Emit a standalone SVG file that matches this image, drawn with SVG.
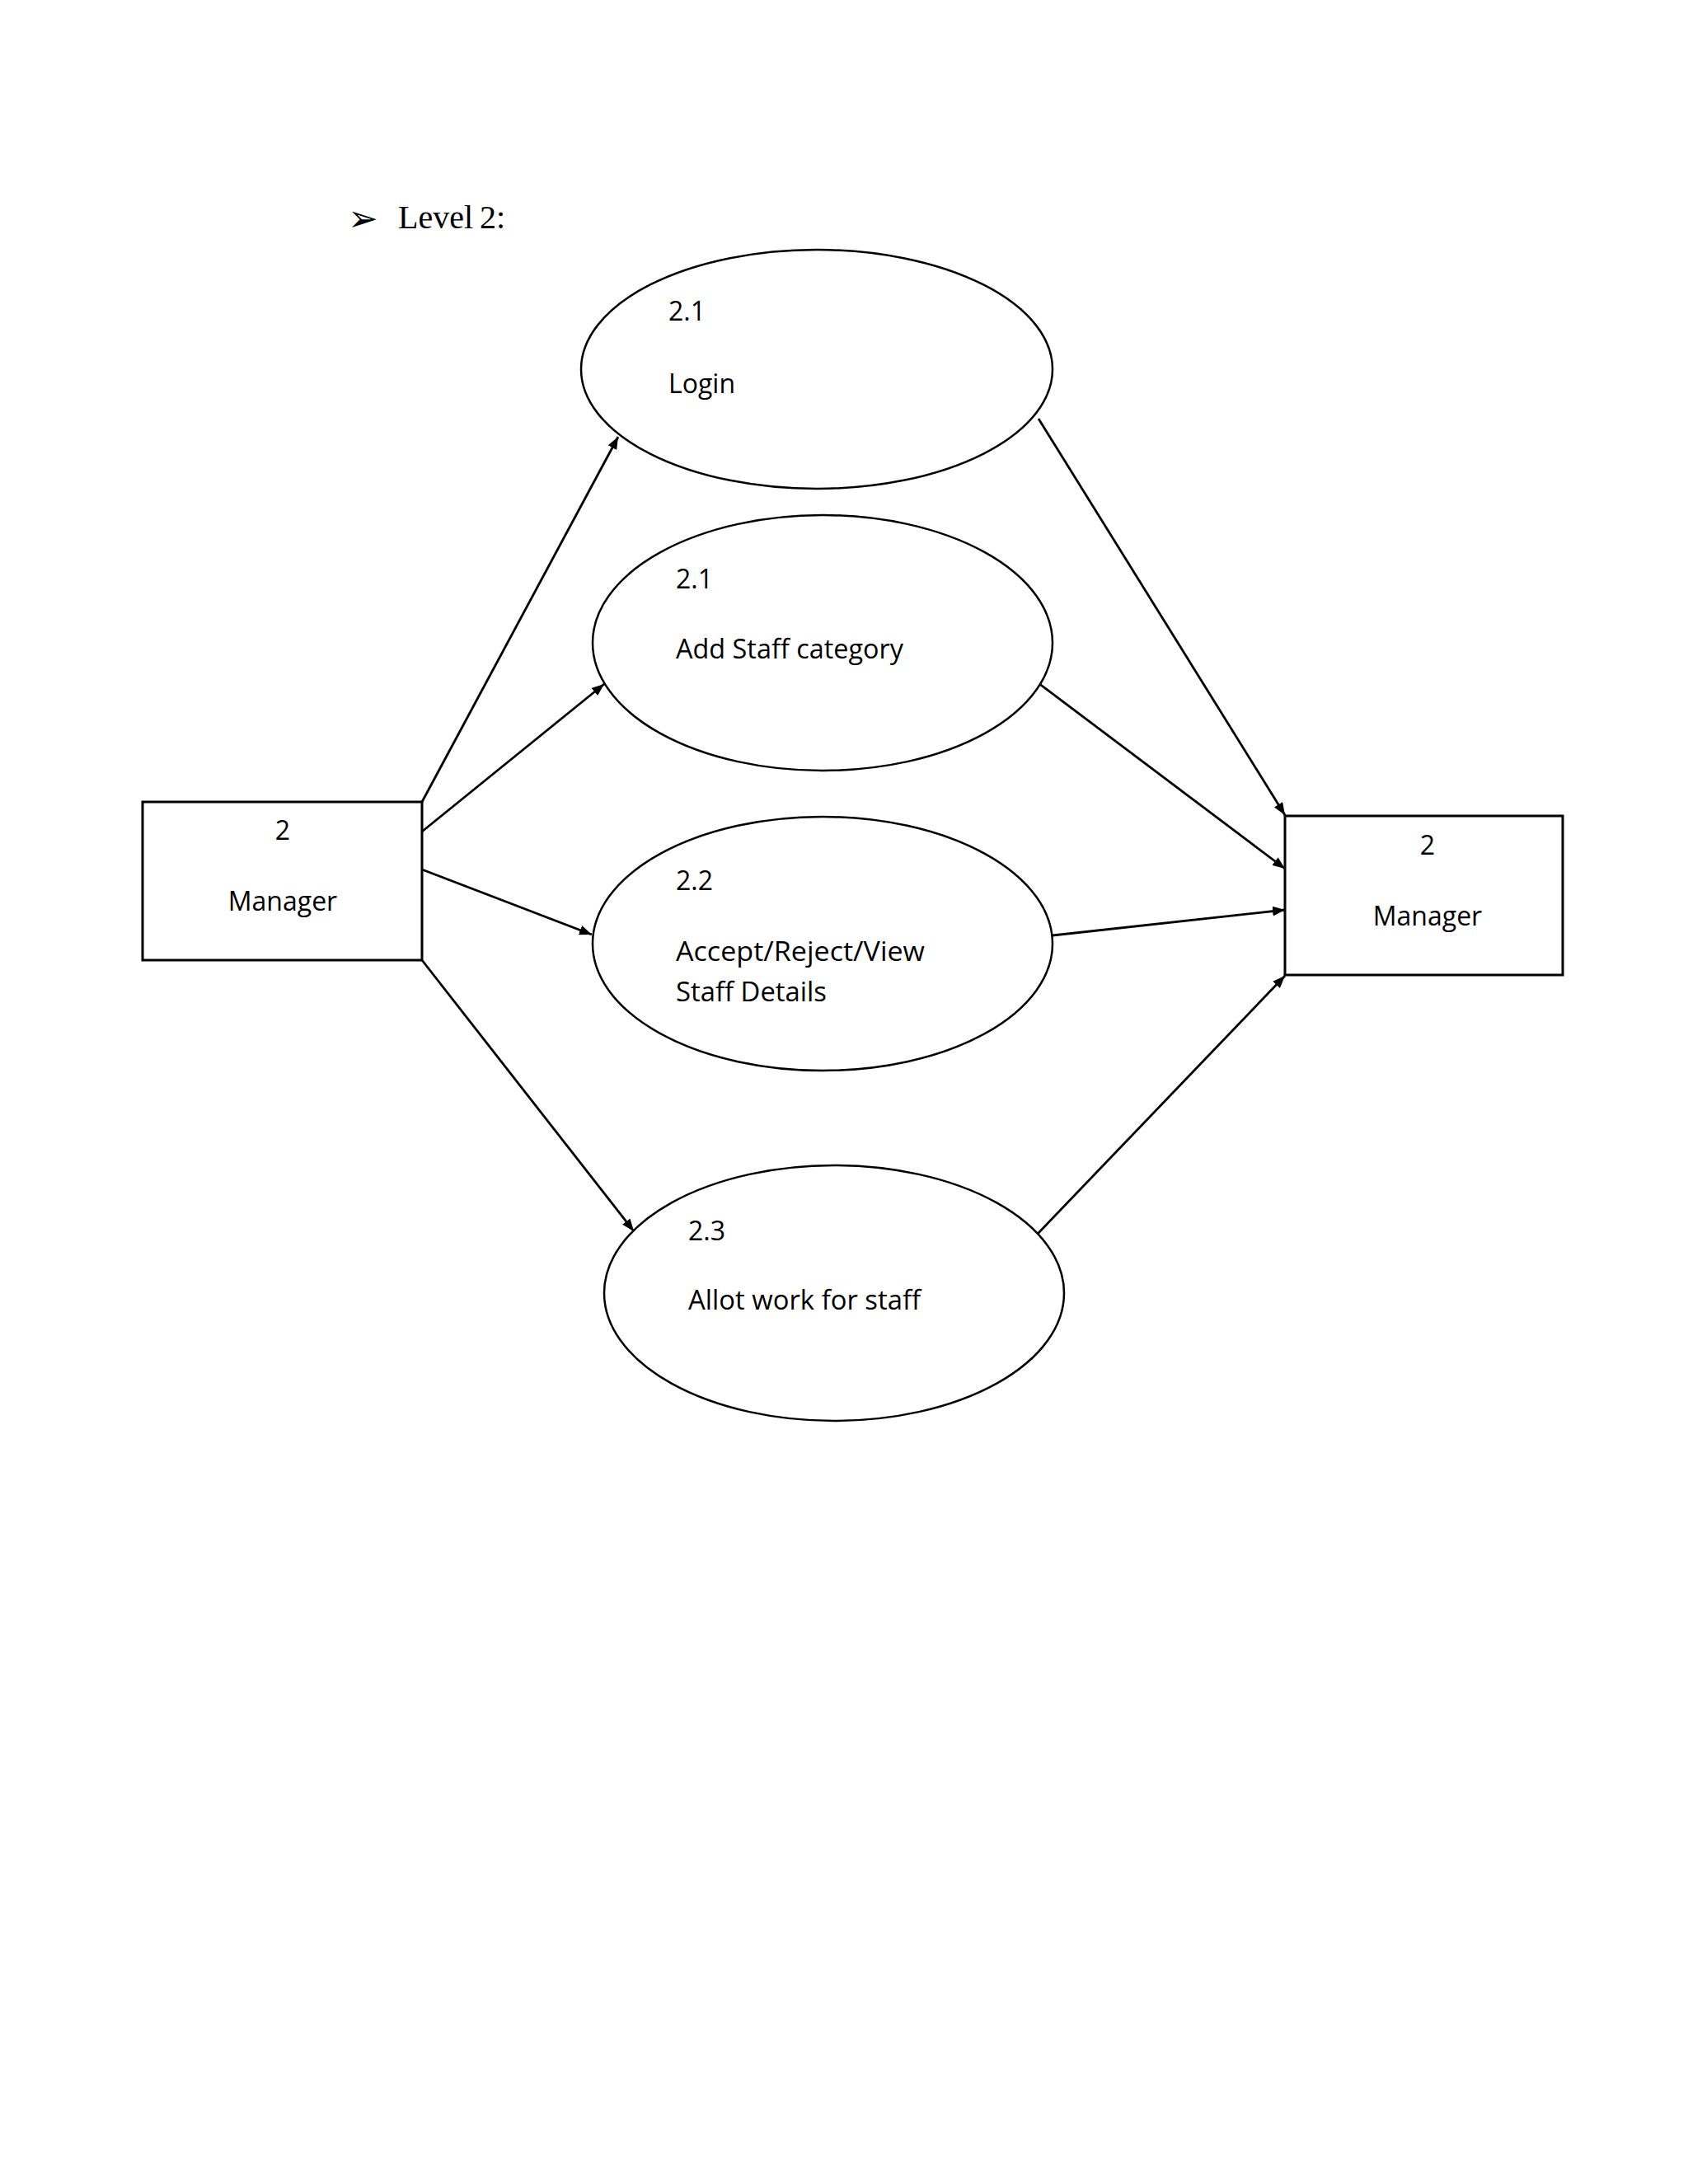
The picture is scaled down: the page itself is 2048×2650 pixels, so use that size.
<svg xmlns="http://www.w3.org/2000/svg" width="2048" height="2650" viewBox="0 0 2048 2650">
<style>
.shape{fill:#fff;stroke:#000;stroke-width:2.5}
.box{fill:#fff;stroke:#000;stroke-width:3}
.lbl{font-family:"Open Sans","Liberation Sans",sans-serif;font-size:32px;fill:#000}
.ctr{text-anchor:middle}
.conn{stroke:#000;stroke-width:2.8;fill:none;marker-end:url(#arr)}
</style>
<defs>
<marker id="arr" markerUnits="userSpaceOnUse" markerWidth="16" markerHeight="12" refX="15" refY="6" orient="auto">
<path d="M0,0 L15,6 L0,12 z" fill="#000"/>
</marker>
</defs>
<rect width="2048" height="2650" fill="#fff"/>
<g id="heading">
<text x="422" y="280" font-family="DejaVu Sans,sans-serif" font-size="44">➢</text>
<text x="483" y="277" font-family="Liberation Serif,serif" font-size="40">Level <tspan x="582">2:</tspan></text>
</g>
<g id="connectors">
<line class="conn" x1="512" y1="973" x2="750" y2="530"/>
<line class="conn" x1="512" y1="1009" x2="733" y2="830"/>
<line class="conn" x1="512" y1="1055" x2="718" y2="1134"/>
<line class="conn" x1="512" y1="1165" x2="769" y2="1494"/>
<line class="conn" x1="1260" y1="508" x2="1559" y2="989"/>
<line class="conn" x1="1260" y1="829" x2="1559" y2="1054"/>
<line class="conn" x1="1277" y1="1135" x2="1559" y2="1104"/>
<line class="conn" x1="1259" y1="1497" x2="1559" y2="1184"/>
</g>
<g id="p21-login">
<ellipse class="shape" cx="991" cy="448" rx="286" ry="145"/>
<text class="lbl" x="811" y="389">2.1</text>
<text class="lbl" x="811" y="477">Login</text>
</g>
<g id="p21-add">
<ellipse class="shape" cx="998" cy="780" rx="279" ry="155"/>
<text class="lbl" x="820" y="714">2.1</text>
<text class="lbl" x="820" y="799" textLength="276" lengthAdjust="spacingAndGlyphs">Add Staff category</text>
</g>
<g id="p22">
<ellipse class="shape" cx="998" cy="1145" rx="279" ry="154"/>
<text class="lbl" x="820" y="1080">2.2</text>
<text class="lbl" x="820" y="1166" textLength="302" lengthAdjust="spacingAndGlyphs">Accept/Reject/View</text>
<text class="lbl" x="820" y="1215" textLength="183" lengthAdjust="spacingAndGlyphs">Staff Details</text>
</g>
<g id="p23">
<ellipse class="shape" cx="1012" cy="1569" rx="279" ry="155"/>
<text class="lbl" x="835" y="1505">2.3</text>
<text class="lbl" x="835" y="1589" textLength="282" lengthAdjust="spacingAndGlyphs">Allot work for staff</text>
</g>
<g id="manager-left">
<rect class="box" x="173" y="973" width="339" height="192"/>
<text class="lbl ctr" x="343" y="1019">2</text>
<text class="lbl ctr" x="343" y="1105">Manager</text>
</g>
<g id="manager-right">
<rect class="box" x="1559" y="990" width="337" height="193"/>
<text class="lbl ctr" x="1732" y="1037">2</text>
<text class="lbl ctr" x="1732" y="1123">Manager</text>
</g>
</svg>
